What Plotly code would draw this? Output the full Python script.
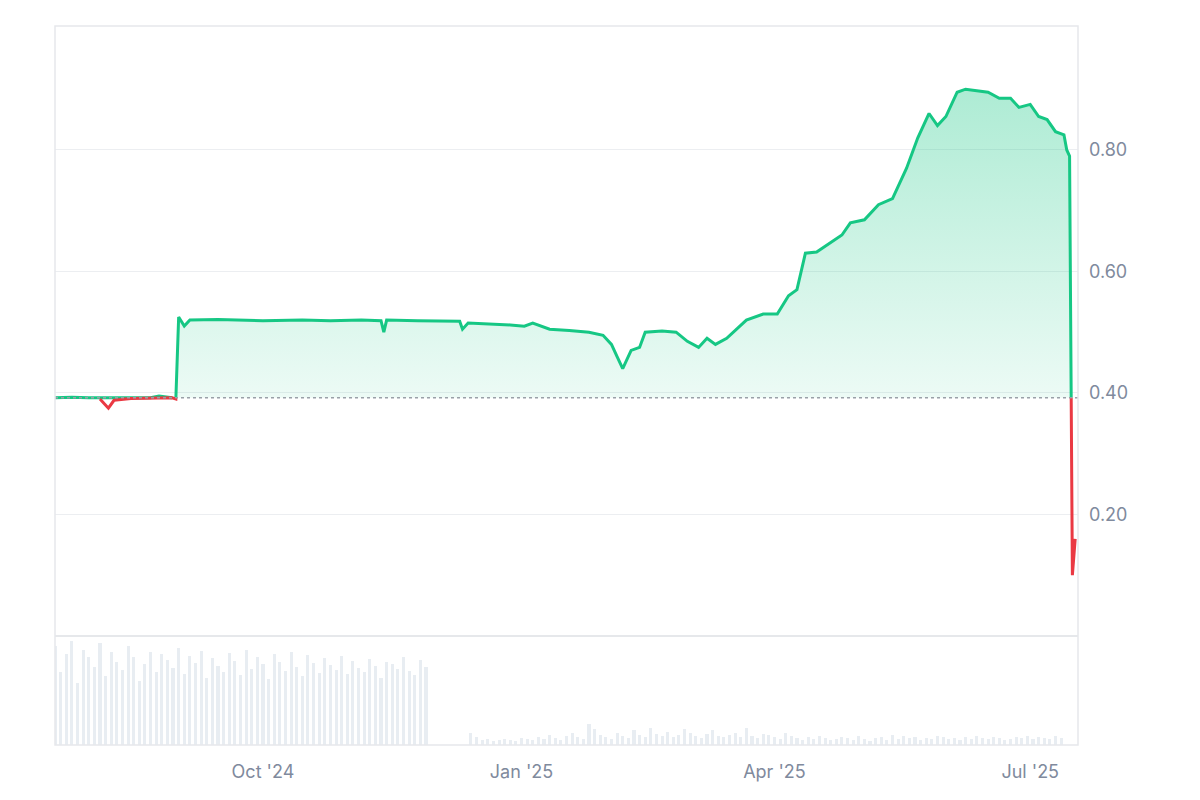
import plotly.graph_objects as go
import pandas as pd
import numpy as np

base_price = 0.392
price_dates = ["2024-07-19","2024-07-25","2024-07-31","2024-08-04","2024-08-07","2024-08-09","2024-08-15","2024-08-22","2024-08-25","2024-08-29","2024-08-31",
 "2024-09-01","2024-09-03","2024-09-05","2024-09-15","2024-10-01","2024-10-15","2024-10-25","2024-11-05","2024-11-12","2024-11-13","2024-11-14","2024-11-25",
 "2024-12-05","2024-12-10","2024-12-11","2024-12-13","2024-12-28","2025-01-02","2025-01-05","2025-01-11","2025-01-18","2025-01-25","2025-01-30","2025-02-02","2025-02-04","2025-02-06","2025-02-09","2025-02-12","2025-02-14","2025-02-20",
 "2025-02-25","2025-03-01","2025-03-05","2025-03-08","2025-03-11","2025-03-15","2025-03-22","2025-03-28","2025-04-02","2025-04-06","2025-04-09","2025-04-12","2025-04-16","2025-04-20","2025-04-25","2025-04-28","2025-05-03","2025-05-08","2025-05-13","2025-05-18","2025-05-22","2025-05-26","2025-05-29","2025-06-01","2025-06-05","2025-06-08","2025-06-12","2025-06-16","2025-06-20","2025-06-24","2025-06-27","2025-07-01","2025-07-04","2025-07-07","2025-07-10","2025-07-13","2025-07-14","2025-07-15","2025-07-16","2025-07-17"]
price_vals = [0.392,0.393,0.392,0.390,0.375,0.388,0.391,0.392,0.395,0.393,0.390,
 0.525,0.510,0.520,0.521,0.519,0.520,0.519,0.520,0.519,0.500,0.520,0.519,
 0.519,0.518,0.505,0.515,0.512,0.510,0.515,0.505,0.503,0.500,0.495,0.480,0.460,0.440,0.470,0.475,0.500,0.502,
 0.500,0.485,0.475,0.490,0.480,0.490,0.520,0.530,0.530,0.560,0.570,0.630,0.632,0.645,0.660,0.680,0.685,0.710,0.720,0.770,0.820,0.860,0.840,0.855,0.895,0.900,0.898,0.895,0.885,0.885,0.870,0.875,0.855,0.850,0.830,0.825,0.800,0.790,0.100,0.160]

vol_start = "2024-07-19"
vol_vals = [95,70,88,100,60,92,85,75,98,66,90,80,72,95,85,62,78,90,70,88,
 82,74,93,68,86,79,91,65,84,76,70,89,81,67,92,73,85,78,64,88,
 80,71,90,75,66,87,79,69,84,77,72,86,68,81,74,70,83,76,65,80,
 78,73,85,71,67,82,75,0,0,0,0,0,0,0,12,8,5,6,4,5,
 6,5,4,7,6,5,8,6,10,7,5,9,12,8,6,20,15,10,8,6,
 12,9,7,14,10,8,16,11,9,13,8,10,15,12,9,7,11,14,9,8,
 10,12,8,16,9,7,11,10,8,6,12,9,7,5,8,6,9,7,5,6,
 8,7,5,9,6,4,7,8,5,10,6,9,7,8,5,7,6,9,8,6,
 7,5,8,6,9,7,6,8,7,5,6,8,7,9,6,8,7,6,9,7]
vol_dates = pd.date_range(vol_start, periods=len(vol_vals), freq="2D")

d = pd.to_datetime(price_dates)
y = np.array(price_vals)
gx, gy, rx, ry = [], [], [], []
for i in range(len(y)):
    if i > 0 and (y[i-1]-base_price)*(y[i]-base_price) < 0:
        t = (base_price-y[i-1])/(y[i]-y[i-1])
        cx = d[i-1] + (d[i]-d[i-1])*t
        gx.append(cx); gy.append(base_price); rx.append(cx); ry.append(base_price)
        if y[i] > base_price: rx.append(None); ry.append(None)
        else: gx.append(None); gy.append(None)
    if y[i] >= base_price:
        gx.append(d[i]); gy.append(y[i])
    else:
        rx.append(d[i]); ry.append(y[i])

green = "#16c784"; red = "#ea3943"
fig = go.Figure()
fig.add_trace(go.Scatter(x=d, y=[base_price]*len(d), mode="lines", line=dict(width=0), hoverinfo="skip", yaxis="y"))
fig.add_trace(go.Scatter(x=d, y=np.maximum(y, base_price), mode="lines", line=dict(width=0), fill="tonexty",
    fillgradient=dict(type="vertical", colorscale=[[0, "rgba(22,199,132,0.08)"], [1, "rgba(22,199,132,0.35)"]]), yaxis="y"))
fig.add_trace(go.Scatter(x=gx, y=gy, mode="lines", line=dict(color=green, width=3), connectgaps=False, yaxis="y"))
fig.add_trace(go.Scatter(x=rx, y=ry, mode="lines", line=dict(color=red, width=3), connectgaps=False, yaxis="y"))
fig.add_trace(go.Bar(x=vol_dates, y=vol_vals, marker=dict(color="#e8edf2", line=dict(width=0)), width=1.1*86400000, yaxis="y2"))

fig.add_shape(type="line", xref="paper", x0=0, x1=1, yref="y", y0=base_price, y1=base_price,
              line=dict(color="#9aa0a8", width=1.5, dash="dot"))
fig.add_shape(type="rect", xref="paper", yref="paper", x0=0, x1=1, y0=0, y1=1, line=dict(color="#e6e8eb", width=1.5))

fig.update_layout(
    width=1200, height=800, showlegend=False, plot_bgcolor="white", paper_bgcolor="white",
    margin=dict(l=47, r=130, t=18, b=63, autoexpand=False), bargap=0,
    font=dict(family="Inter, Roboto, sans-serif", color="#808a9d", size=18),
    xaxis=dict(type="date", anchor="y2", range=["2024-07-19", "2025-07-18"], tickvals=["2024-10-01","2025-01-01","2025-04-01","2025-07-01"],
               ticktext=["Oct '24","Jan '25","Apr '25","Jul '25"], showgrid=False, ticks="", zeroline=False, automargin=False, ticklabelstandoff=14),
    yaxis=dict(domain=[0.1516, 1], range=[0, 1.004], side="right", tickvals=[0.2, 0.4, 0.6, 0.8], anchor="x",
               ticktext=["0.20","0.40","0.60","0.80"], showgrid=True, gridcolor="#eceef1", zeroline=True, zerolinecolor="#e6e8eb",
               ticklabelstandoff=10, automargin=False),
    yaxis2=dict(domain=[0, 0.1516], range=[0, 105], showticklabels=False, showgrid=False, zeroline=False, automargin=False),
)
fig.write_html("out.html")
